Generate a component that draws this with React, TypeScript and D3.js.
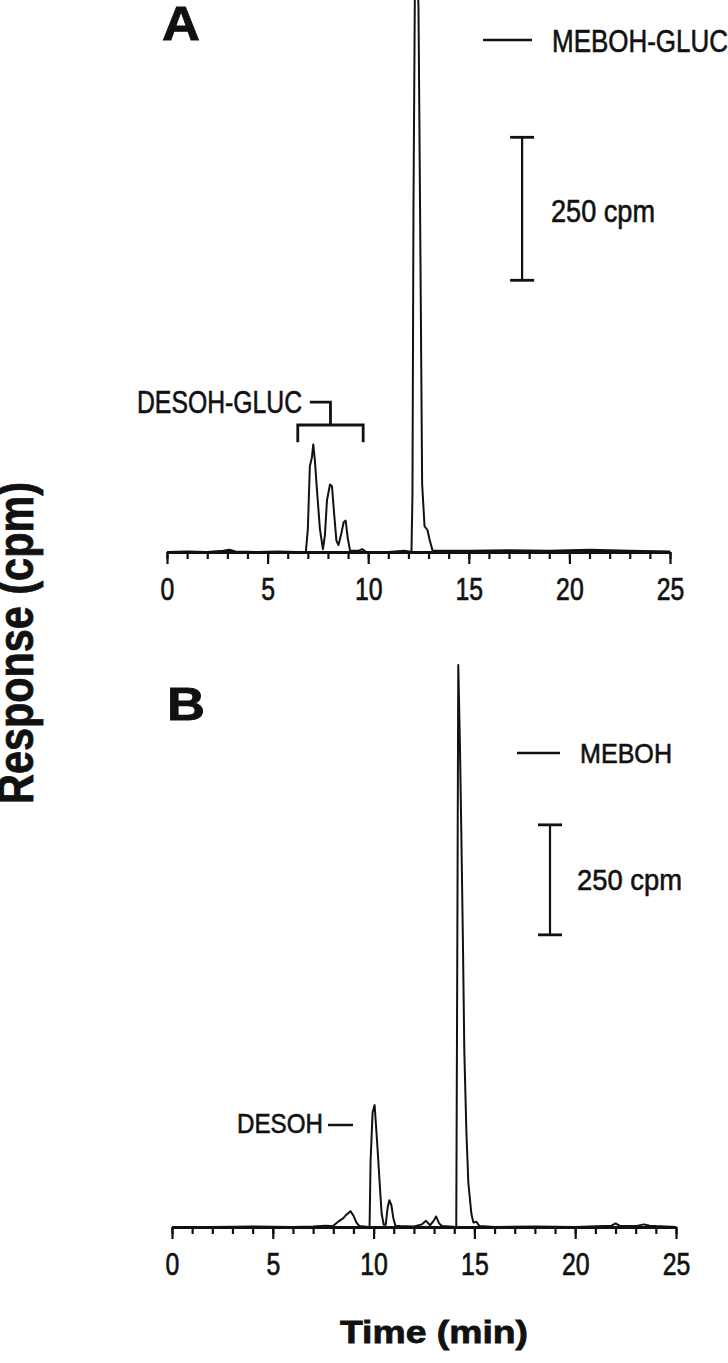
import { useEffect, useRef } from 'react';
import * as d3 from 'd3';

const W = 728;
const H = 1363;
const FONT = "'Liberation Sans Narrow', 'Liberation Sans', Arial, sans-serif";

// x axis ticks (min)
const majorTicks = [0, 5, 10, 15, 20, 25];
const minorTicks = [0, 1, 2, 3, 4, 5, 6, 7, 8, 9, 10, 11, 12, 13, 14, 15, 16, 17, 18, 19, 20, 21, 22, 23, 24, 25];

// Panel A: glucuronide fraction, time (min) / response (cpm)
const timeA = [0, 1, 2, 2.8, 3.1, 3.4, 4.5, 5.5, 6.5, 6.9, 7.0, 7.1, 7.2, 7.27, 7.35, 7.45, 7.6, 7.75, 7.85, 7.95, 8.1, 8.2, 8.3, 8.42, 8.52, 8.65, 8.78, 8.88, 8.98, 9.1, 9.5, 9.7, 9.9, 11.0, 11.8, 12.15, 12.2, 12.25, 12.35, 12.5, 12.6, 12.68, 12.8, 12.95, 13.05, 13.2, 15, 17, 19, 21, 23, 25];
const cpmA = [0, 1, 0, 2, 4, 1, 0, 1, 0, 0, 40, 150, 165, 188, 160, 110, 40, 5, 30, 90, 118, 115, 70, 20, 12, 30, 52, 55, 25, 2, 2, 5, 0, 0, 2, 0, 100, 600, 1150, 950, 500, 120, 45, 38, 22, 2, 2, 3, 2, 4, 2, 1];

// Panel B: aglycone fraction
const timeB = [0, 2, 4, 6, 7, 7.6, 7.9, 8.0, 8.3, 8.5, 8.65, 8.85, 9.0, 9.15, 9.3, 9.75, 9.8, 9.85, 9.95, 10.05, 10.12, 10.2, 10.3, 10.4, 10.5, 10.6, 10.7, 10.78, 10.88, 10.98, 11.08, 11.3, 12.0, 12.4, 12.6, 12.8, 12.95, 13.1, 13.25, 13.4, 14.1, 14.15, 14.2, 14.28, 14.35, 14.43, 14.5, 14.6, 14.7, 14.85, 14.95, 15.1, 15.25, 16, 18, 20, 21.8, 22.0, 22.2, 23.0, 23.4, 23.7, 24.0, 25];
const cpmB = [0, 0, 1, 0, 1, 3, 2, 3, 14, 20, 28, 36, 26, 10, 2, 0, 0, 150, 260, 277, 230, 175, 100, 30, 5, 5, 45, 61, 50, 20, 3, 2, 1, 6, 14, 4, 12, 24, 8, 2, 0, 600, 1277, 1100, 900, 650, 400, 220, 100, 30, 10, 12, 2, 0, 1, 0, 3, 8, 3, 2, 6, 3, 2, 0];

const panels = [
    {
        key: 'A', time: timeA, cpm: cpmA,
        left: 167, right: 670, base: 552, bar250: 143,
        tag: { x: 162, y: 40, size: 48, len: 38 },
        scaleBar: { t: 17.65, from: 475 },
        scaleText: { x: 551, y: 222, size: 32, len: 104 },
        peakLabel: { text: 'MEBOH-GLUC', x: 552, y: 52, size: 32, len: 176, dash: [483, 532, 40] },
    },
    {
        key: 'B', time: timeB, cpm: cpmB,
        left: 172, right: 676, base: 1227, bar250: 110,
        tag: { x: 167, y: 720, size: 46, len: 38 },
        scaleBar: { t: 18.75, from: 664 },
        scaleText: { x: 577, y: 890, size: 30, len: 105 },
        peakLabel: { text: 'MEBOH', x: 580, y: 763, size: 27, len: 92, dash: [517, 560, 753] },
    },
];

const Chart = () => {
    const svgRef = useRef<SVGSVGElement | null>(null);

    useEffect(() => {
        const svg = d3.select(svgRef.current);
        svg.selectAll('*').remove();

        const addText = (txt: string, x: number, y: number, size: number, len: number, bold = false) =>
            svg.append('text')
                .attr('x', x)
                .attr('y', y)
                .attr('textLength', len)
                .attr('lengthAdjust', 'spacingAndGlyphs')
                .style('font-family', FONT)
                .style('font-size', `${size}px`)
                .style('font-weight', bold ? 'bold' : 'normal')
                .attr('fill', '#111')
                .attr('stroke', '#111')
                .attr('stroke-width', bold ? 0.8 : 0.6)
                .text(txt);

        panels.forEach(p => {
            const x = d3.scaleLinear().domain([0, 25]).range([p.left, p.right]);
            const y = d3.scaleLinear().domain([0, 250]).range([p.base, p.base - p.bar250]);

            // minor ticks + axis line
            const minor = svg.append('g')
                .attr('transform', `translate(0,${p.base})`)
                .call(d3.axisBottom(x).tickValues(minorTicks).tickSize(7).tickSizeOuter(0).tickFormat(() => ''));
            minor.select('.domain').attr('stroke', '#111').attr('stroke-width', 2.8);
            minor.selectAll('.tick line').attr('stroke', '#111').attr('stroke-width', 2.2);

            const major = svg.append('g')
                .attr('transform', `translate(0,${p.base})`)
                .call(d3.axisBottom(x).tickValues(majorTicks).tickSize(12).tickSizeOuter(0).tickFormat(d => String(d)));
            major.select('.domain').remove();
            major.selectAll('.tick line').attr('stroke', '#111').attr('stroke-width', 2.2);
            major.selectAll('.tick text')
                .attr('y', 48)
                .attr('dy', 0)
                .attr('fill', '#111')
                .attr('stroke', '#111')
                .attr('stroke-width', 0.7)
                .attr('transform', 'scale(0.8,1)')
                .style('font-family', FONT)
                .style('font-size', '31px');

            // chromatogram trace
            const pts = p.time.map((t, i) => [t, p.cpm[i]] as [number, number]);
            svg.append('path')
                .datum(pts)
                .attr('fill', 'none')
                .attr('stroke', '#111')
                .attr('stroke-width', 2)
                .attr('stroke-linejoin', 'round')
                .attr('d', d3.line<[number, number]>().x(d => x(d[0])).y(d => y(d[1])));

            // panel letter
            addText(p.key, p.tag.x, p.tag.y, p.tag.size, p.tag.len, true);

            // 250 cpm scale bar
            const bx = x(p.scaleBar.t);
            const y0 = y(p.scaleBar.from);
            const y1 = y(p.scaleBar.from + 250);
            svg.append('line').attr('x1', bx).attr('x2', bx).attr('y1', y0).attr('y2', y1)
                .attr('stroke', '#111').attr('stroke-width', 2.2);
            [y0, y1].forEach(yy => {
                svg.append('line').attr('x1', bx - 12).attr('x2', bx + 12).attr('y1', yy).attr('y2', yy)
                    .attr('stroke', '#111').attr('stroke-width', 2.8);
            });
            addText('250 cpm', p.scaleText.x, p.scaleText.y, p.scaleText.size, p.scaleText.len);

            // main peak label
            const [dx1, dx2, dy] = p.peakLabel.dash;
            svg.append('line').attr('x1', dx1).attr('x2', dx2).attr('y1', dy).attr('y2', dy)
                .attr('stroke', '#111').attr('stroke-width', 2.5);
            addText(p.peakLabel.text, p.peakLabel.x, p.peakLabel.y, p.peakLabel.size, p.peakLabel.len);

            if (p.key === 'A') {
                // bracket over the DESOH-GLUC cluster
                const bl = x(6.5), br = x(9.75), mid = (bl + br) / 2;
                const by = y(222), bt = y(192), cy = y(262);
                svg.append('path')
                    .attr('d', `M${bl},${bt}V${by}H${br}V${bt}M${mid},${by}V${cy}H${x(7.1)}`)
                    .attr('fill', 'none')
                    .attr('stroke', '#111')
                    .attr('stroke-width', 2.8);
                addText('DESOH-GLUC', 137, 413, 32, 165);
            } else {
                svg.append('line').attr('x1', 328).attr('x2', 353).attr('y1', 1125).attr('y2', 1125)
                    .attr('stroke', '#111').attr('stroke-width', 2.5);
                addText('DESOH', 237, 1133, 28, 86);
            }
        });

        // shared axis titles
        addText('Time (min)', 340, 1343, 32, 188, true);
        svg.append('text')
            .attr('transform', 'translate(33,643) rotate(-90)')
            .attr('text-anchor', 'middle')
            .attr('textLength', 322)
            .attr('lengthAdjust', 'spacingAndGlyphs')
            .style('font-family', FONT)
            .style('font-size', '50px')
            .style('font-weight', 'bold')
            .attr('fill', '#111')
            .attr('stroke', '#111')
            .attr('stroke-width', 0.8)
            .text('Response (cpm)');
    }, []);

    return (
        <svg ref={svgRef} width={W} height={H}
            style={{ position: 'absolute', left: 0, top: 0, background: '#fff' }} />
    );
};

export default function App() {
    return <Chart />;
}
